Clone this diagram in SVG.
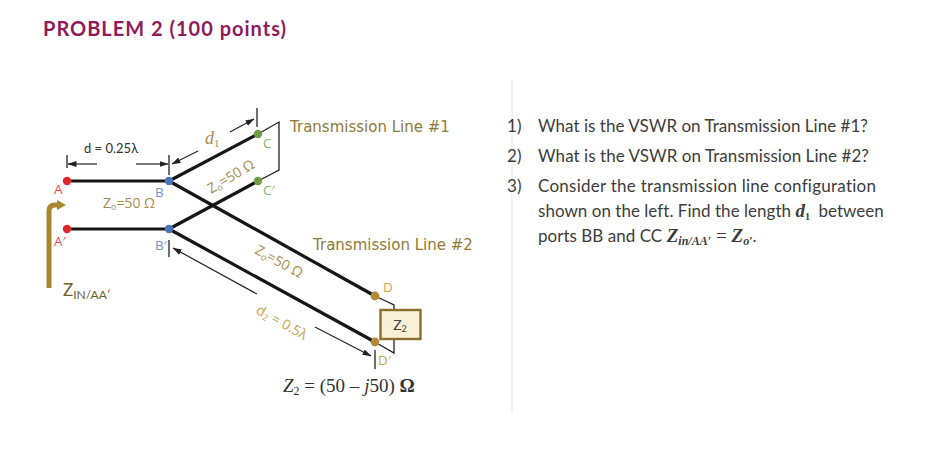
<svg xmlns="http://www.w3.org/2000/svg" width="935" height="459" viewBox="0 0 935 459">
<style>
text{font-family:"Lato","Open Sans",sans-serif}
.q{font-size:17px;fill:#3c3c3c;letter-spacing:.03px}
.m{font-family:"Liberation Serif",serif}
.tl{font-family:"DejaVu Sans",sans-serif;font-size:15px;fill:#8d7a35}
.z{font-family:"Open Sans",sans-serif;font-size:14px;fill:#a88c4e}
.line{stroke:#161616;stroke-width:3.2;fill:none}
.thin{stroke:#222;stroke-width:1.3;fill:none}
.dim{stroke:#222;stroke-width:1.2;fill:none;marker-end:url(#ah)}
.lab{font-family:"Open Sans",sans-serif;font-size:13.500px}
</style>
<defs>
<marker id="ah" markerWidth="9" markerHeight="7" refX="8.500" refY="3.500" orient="auto" markerUnits="userSpaceOnUse"><path d="M0 0.500L9 3.500L0 6.500z" fill="#222"/></marker>
<marker id="gold" markerWidth="9" markerHeight="10" refX="3" refY="5" orient="auto" markerUnits="userSpaceOnUse"><path d="M0 0L9 5L0 10z" fill="#a8872f"/></marker>
</defs>
<rect width="935" height="459" fill="#fff"/>
<text id="title" x="43" y="36" font-size="20" font-weight="700" fill="#8e1b5c" textLength="243">PROBLEM 2 (100 points)</text>
<line x1="512" y1="80" x2="512" y2="413" stroke="#eee" stroke-width="1.5"/>
<g id="connectors">
<path class="line" d="M67 181H169M67 229H169"/>
<path class="line" d="M169 181L258 134M169 229L258 181"/>
<path class="line" d="M169 181L375 296M169 229L375 342"/>
<path class="thin" d="M258 134L279 122V170L258 181"/>
<path class="thin" d="M375 296L394 305V310M375 342L394 353V339"/>
<path d="M49 288V211Q49 205 55 205H60" fill="none" stroke="#a8872f" stroke-width="5" marker-end="url(#gold)"/>
<path class="thin" d="M67 155V168M169 155V175M169 240V257M257 108V127M375 350V369"/>
<path class="dim" d="M97 164H68"/>
<path class="dim" d="M136 164H168"/>
<path class="dim" d="M198 151L172 164"/>
<path class="dim" d="M230 132L254 119"/>
<path class="dim" d="M257 294L173 248"/>
<path class="dim" d="M315 327L371 356"/>
</g>
<g id="node-A"><circle cx="67" cy="181" r="4.200" fill="#e0262a"/><text class="lab" x="54" y="194" fill="#f0484a">A</text></g>
<g id="node-A-prime"><circle cx="67" cy="229" r="4.200" fill="#e0262a"/><text class="lab" x="54" y="246" fill="#f0484a">A′</text></g>
<g id="node-B"><circle cx="169" cy="181" r="4.200" fill="#4a74c0"/><text class="lab" x="155" y="197" fill="#6f93d6">B</text></g>
<g id="node-B-prime"><circle cx="169" cy="229" r="4.200" fill="#4a74c0"/><text class="lab" x="155" y="250" fill="#6f93d6">B′</text></g>
<g id="node-C"><circle cx="258" cy="134" r="4.200" fill="#6f9e45"/><text class="lab" x="263" y="148" fill="#86b563">C</text></g>
<g id="node-C-prime"><circle cx="258" cy="181" r="4.200" fill="#6f9e45"/><text class="lab" x="263" y="195" fill="#86b563">C′</text></g>
<g id="node-D"><circle cx="375" cy="296" r="4.400" fill="#b48a35"/><text class="lab" x="383" y="292" fill="#c9a253">D</text></g>
<g id="node-D-prime"><circle cx="375" cy="342" r="4.400" fill="#b48a35"/><text class="lab" x="378" y="365" fill="#c9a253">D′</text></g>
<g id="node-Z2"><rect x="380.500" y="310" width="40" height="29" fill="#f8f0d6" stroke="#8a6f2c" stroke-width="2.400"/><text x="400" y="330" text-anchor="middle" font-family="Open Sans,sans-serif" font-size="14" fill="#444">Z<tspan font-size="9" dy="2">2</tspan></text></g>
<g id="labels">
<text x="84" y="153" font-family="Open Sans,sans-serif" font-size="13" fill="#333">d = 0.25λ</text>
<text class="z" x="103" y="208">Z<tspan font-size="9" dy="2">o</tspan><tspan dy="-2">=50 Ω</tspan></text>
<text class="z" transform="translate(211 194) rotate(-31)">Z<tspan font-size="9" dy="2">o</tspan><tspan dy="-2">=50 Ω</tspan></text>
<text class="z" transform="translate(254 253) rotate(29)">Z<tspan font-size="9" dy="2">o</tspan><tspan dy="-2">=50 Ω</tspan></text>
<text class="z" transform="translate(255 313) rotate(29)" style="fill:#c9a253">d<tspan font-size="9" dy="2">2</tspan><tspan dy="-2"> = 0.5λ</tspan></text>
<text class="m" x="205" y="144" font-size="18" font-style="italic" fill="#a88c4e">d<tspan font-size="11" dy="3" font-style="normal">1</tspan></text>
<text class="tl" x="290" y="132">Transmission Line #1</text>
<text class="tl" x="313" y="250">Transmission Line #2</text>
<text x="63" y="296" font-family="Open Sans,sans-serif" font-size="17" fill="#6f5d2a">Z<tspan font-size="12" dy="3">IN/AA′</tspan></text>
<text class="m" x="283" y="392" font-size="19" fill="#333"><tspan font-style="italic">Z</tspan><tspan font-size="12" dy="3">2</tspan><tspan dy="-3"> = (50 – </tspan><tspan font-style="italic">j</tspan>50) <tspan font-weight="700">Ω</tspan></text>
</g>
<g id="questions">
<text class="q" x="507" y="132">1)</text><text class="q" x="538" y="132" textLength="330">What is the VSWR on Transmission Line #1?</text>
<text class="q" x="507" y="162">2)</text><text class="q" x="538" y="162" textLength="331">What is the VSWR on Transmission Line #2?</text>
<text class="q" x="507" y="192">3)</text><text class="q" x="538" y="192" textLength="338">Consider the transmission line configuration</text>
<text class="q" x="538" y="217">shown on the left. Find the length <tspan class="m" font-size="19" font-style="italic" font-weight="700">d</tspan><tspan class="m" font-size="10" font-weight="700" dy="3">1</tspan><tspan dy="-3" dx="4"> between</tspan></text>
<text class="q" x="538" y="242">ports BB and CC <tspan class="m" font-size="19" font-style="italic" font-weight="700">Z</tspan><tspan class="m" font-style="italic" font-weight="700" font-size="12" dy="3">in/AA′</tspan><tspan class="m" font-size="19" dy="-3"> = </tspan><tspan class="m" font-size="19" font-style="italic" font-weight="700">Z</tspan><tspan class="m" font-style="italic" font-weight="700" font-size="12" dy="3">o′</tspan><tspan dy="-3">.</tspan></text>
</g>
</svg>
